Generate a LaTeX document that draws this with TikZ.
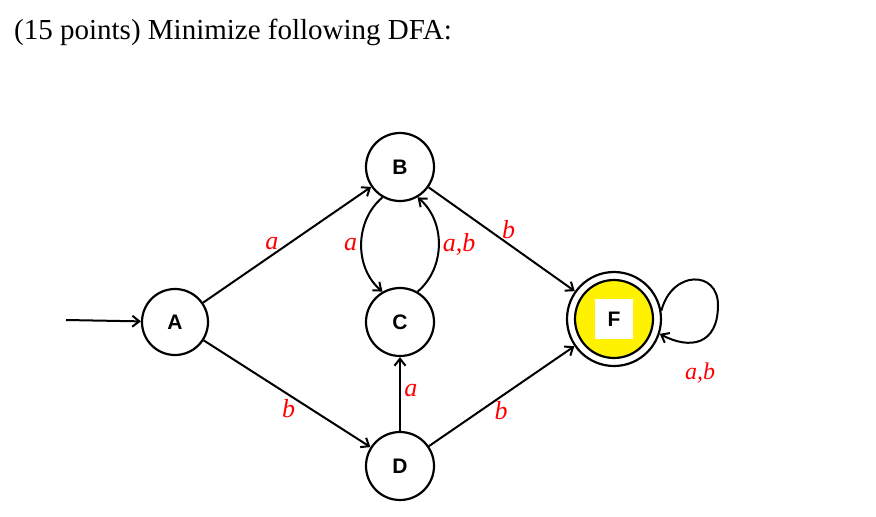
\documentclass[tikz,border=0pt]{standalone}
\usepackage{fontspec}
\setmainfont{Liberation Serif}
\setsansfont{Liberation Sans}
\usetikzlibrary{arrows.meta}
\begin{document}
\begin{tikzpicture}[x=1pt,y=-1pt,
 st/.style={circle,draw,line width=2.2pt,minimum size=68pt,inner sep=0pt,font=\sffamily\bfseries\fontsize{21}{23}\selectfont},
 ed/.style={line width=2pt,-{Straight Barb[length=7pt,width=11pt]}},
 lb/.style={text=red,font=\itshape\fontsize{26}{28}\selectfont}]
\useasboundingbox (0,0) rectangle (876,517);
\node[anchor=west,font=\fontsize{29}{32}\selectfont,inner sep=0pt] (t) at (14,32) {(15 points) Minimize following DFA:};
\node[st,minimum size=66pt] (A) at (175,322) {A};
\node[st] (B) at (400,167) {B};
\node[st] (C) at (400,322) {C};
\node[st] (D) at (400,466) {D};
\node[circle,draw,line width=2.2pt,minimum size=94pt] (F) at (614,319) {};
\node[circle,draw,line width=2.2pt,fill=yellow,minimum size=78pt] (Fi) at (614,319) {};
\node[fill=white,minimum width=38pt,minimum height=40pt,font=\sffamily\bfseries\fontsize{21}{23}\selectfont] (Fl) at (614,319) {F};
\coordinate (s) at (66,320);
\draw[ed] (s) -- (A);
\draw[ed] (A) -- (B) node[lb,pos=0.45,above left=-4pt] {a};
\draw[ed] (A) -- (D) node[lb,pos=0.55,below left=-4pt] {b};
\draw[ed] (B.240) to[bend right=50] node[lb,left] {a} (C.120);
\draw[ed] (C.60) to[bend right=50] node[lb,right] {a,b} (B.300);
\draw[ed] (D) -- (C) node[lb,pos=0.55,right] {a};
\draw[ed] (B) -- (F) node[lb,pos=0.5,above right=-4pt] {b};
\draw[ed] (D) -- (F) node[lb,pos=0.45,below right=-4pt] {b};
\draw[ed] (F.10) .. controls (672,270) and (718,270) .. (718,305) .. controls (718,345) and (690,350) .. (F.-18);
\node[lb,font=\itshape\fontsize{24}{26}\selectfont] (L) at (700,373) {a,b};
\end{tikzpicture}
\end{document}
